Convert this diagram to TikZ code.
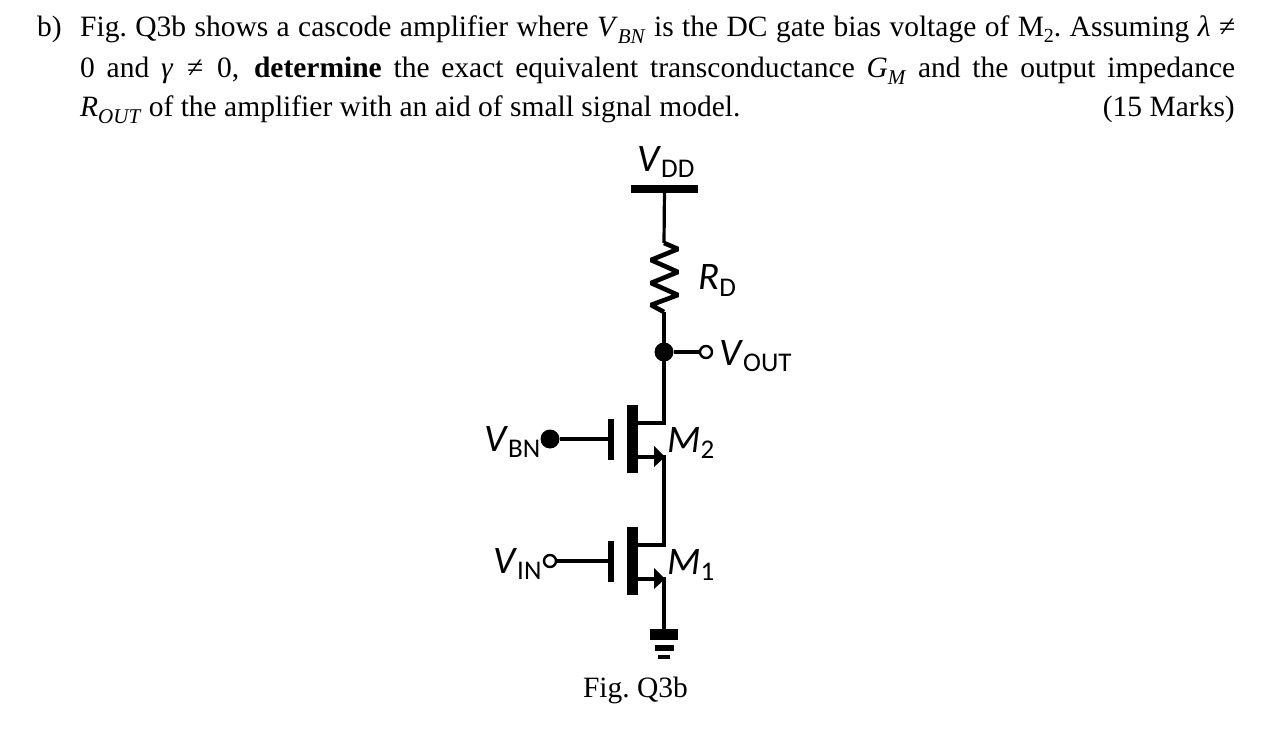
\documentclass[tikz,border=0pt]{standalone}
\usepackage{fontspec}
\setmainfont{Liberation Serif}
\newfontfamily\carl{Carlito}
\usetikzlibrary{arrows.meta}
\frenchspacing
\newcommand{\msub}[2]{\textit{#1}\raisebox{-0.22em}{\fontsize{21}{21}\selectfont\textit{#2}}}
\newcommand{\csub}[2]{{\fontsize{39}{39}\selectfont\carl\textit{#1}}\raisebox{-6pt}{\fontsize{27}{27}\selectfont\carl #2}}
\tikzset{
  wire/.style={line width=3.2pt,black},
  joined/.style={line cap=rect},
  thick bar/.style={fill=black,draw=none,outer sep=0pt},
  pin/.style={circle,draw=black,line width=2.4pt,fill=white,minimum size=12pt,inner sep=0pt,outer sep=0pt},
  dot/.style={circle,fill=black,minimum size=19pt,inner sep=0pt,outer sep=0pt},
  body/.style={anchor=base west,inner sep=0pt,font=\fontsize{29.5}{29.5}\selectfont},
  lab/.style={anchor=base west,inner sep=0pt},
}
\begin{document}
\begin{tikzpicture}[x=1pt,y=-1pt]
\useasboundingbox (0,0) rectangle (1280,738);
\fill[white] (0,0) rectangle (1280,738);
% text
\node[body] (tb) at (37,37) {b)};
\node[body] (l1) at (80,37) {\hbox to 1155pt{Fig. Q3b shows a cascode amplifier where \msub{V}{BN} is the DC gate bias voltage of M\raisebox{-0.2em}{\fontsize{20}{20}\selectfont 2}. Assuming \textit{λ} ≠}};
\node[body] (l2) at (80,78) {\hbox to 1155pt{0 and \textit{γ}\kern2pt\ ≠\kern2pt\ 0,\kern3pt\ \textbf{determine} the exact equivalent transconductance \msub{G}{M} and the output impedance}};
\node[body] (l3) at (80,117) {\msub{R}{OUT} of the amplifier with an aid of small signal model.};
\node[body,anchor=base east] (marks) at (1235,117) {(15 Marks)};
\node[body,anchor=base] (cap) at (635.5,697) {Fig. Q3b};
% supply
\node[thick bar,minimum width=67pt,minimum height=8pt,inner sep=0pt] (vdd) at (664.5,189) {};
\coordinate (rtop) at (664,243);
\coordinate (rbot) at (664,312);
\node[dot] (vo) at (664,352) {};
\node[pin] (vop) at (706,352) {};
\draw[wire] (vdd.center) -- (rtop);
\draw[wire,line width=4.6pt,line join=miter,miter limit=2] (rtop) -- (678,249) -- (651,260) -- (678,272) -- (651,283) -- (678,295) -- (651,305) -- (rbot);
\draw[wire] (rbot) -- (vo);
\draw[wire] (vo) -- (vop);
% M2
\node[thick bar,minimum width=11pt,minimum height=68pt,inner sep=0pt] (ch2) at (632.5,439) {};
\node[thick bar,minimum width=6pt,minimum height=41pt,inner sep=0pt] (pl2) at (611,439) {};
\coordinate (d2) at (664,423);
\coordinate (s2) at (664,457);
\node[dot] (vbn) at (550,439) {};
\draw[wire] (vbn) -- (pl2);
\draw[wire,joined] (vo) -- (d2);
\draw[wire,joined] (d2) -- (d2-|ch2.east);
\draw[wire] (s2-|ch2.east) -- (s2);
\fill (s2) ++(1,0) -- ++(-11,-11) -- ++(0,21) -- cycle;
% M1
\node[thick bar,minimum width=11pt,minimum height=68pt,inner sep=0pt] (ch1) at (632.5,561) {};
\node[thick bar,minimum width=6pt,minimum height=41pt,inner sep=0pt] (pl1) at (611,561) {};
\coordinate (d1) at (664,545);
\coordinate (s1) at (664,579);
\node[pin] (vin) at (550,561) {};
\draw[wire] (vin) -- (pl1);
\draw[wire,joined] (s2) -- (d1);
\draw[wire,joined] (d1) -- (d1-|ch1.east);
\draw[wire] (s1-|ch1.east) -- (s1);
\fill (s1) ++(1,0) -- ++(-11,-11) -- ++(0,21) -- cycle;
% ground
\node[thick bar,minimum width=28pt,minimum height=11pt,inner sep=0pt] (g1) at (664,634.5) {};
\node[thick bar,minimum width=19pt,minimum height=6pt,inner sep=0pt] (g2) at (664,648) {};
\node[thick bar,minimum width=12pt,minimum height=4pt,inner sep=0pt] (g3) at (664,657) {};
\draw[wire,joined] (s1) -- (g1);
% labels
\node[lab] (lvdd) at (637,172) {\csub{V}{DD}};
\node[lab] (lrd) at (698,290) {\csub{R}{D}};
\node[lab] (lvout) at (719,365) {\csub{V}{OUT}};
\node[lab] (lm2) at (667,452) {\csub{M}{2}};
\node[lab] (lm1) at (667,574) {\csub{M}{1}};
\node[lab] (lvbn) at (484,451) {\csub{V}{BN}};
\node[lab] (lvin) at (493,573) {\csub{V}{IN}};
\end{tikzpicture}
\end{document}
